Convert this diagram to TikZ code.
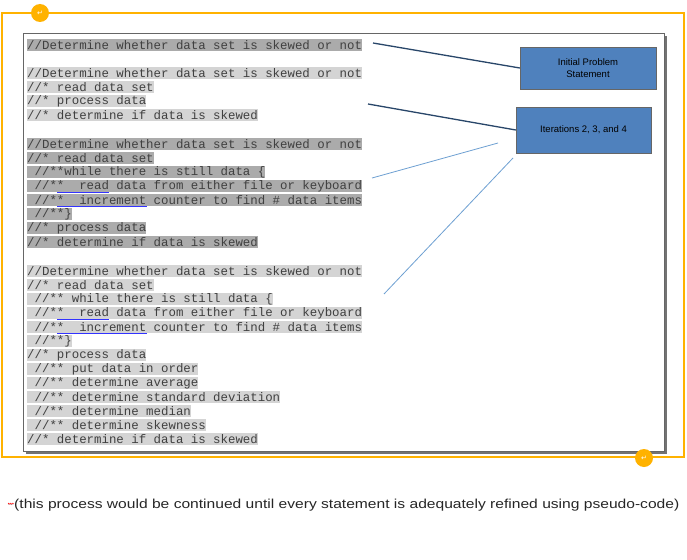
\documentclass[tikz,border=0pt]{standalone}
\usepackage{fontspec}
\usetikzlibrary{decorations.pathmorphing}
\setmainfont{Liberation Sans}
\setmonofont{Liberation Mono}
\newfontfamily\dvs{DejaVu Sans}
\begin{document}
\begin{tikzpicture}[x=1pt,y=-1pt,
  code/.style={anchor=west,inner sep=0pt,font=\ttfamily\fontsize{12.4}{13}\selectfont,text=black!75,minimum height=12pt},
  dk/.style={code,fill=black!33},
  lt/.style={code,fill=black!17},
  bluebox/.style={draw=black!60,fill={rgb,255:red,79;green,129;blue,189},font=\fontsize{9.5}{12}\selectfont,text=black,align=center,inner sep=2pt},
  dline/.style={draw={rgb,255:red,40;green,70;blue,105},line width=1.3pt},
  lline/.style={draw={rgb,255:red,110;green,160;blue,210},line width=0.8pt},
  uline/.style={draw=blue!80,line width=0.9pt},
  badge/.style={font=\dvs\scriptsize,text=white,inner sep=0}]
\useasboundingbox (0,0) rectangle (687,559);
\fill[white] (0,0) rectangle (687,559);
% yellow frame
\draw[draw=orange!60!yellow,line width=2.5pt] (2,13) rectangle (684,457);
\fill[orange!60!yellow] (40,13) circle (9);
\node[badge] (c1) at (40,13) {↵};
% inner box with shadow
\fill[black!55] (26,36) rectangle (667,454);
\draw[fill=white,draw=black!60,line width=0.8pt] (23,33) rectangle (664,451);
\fill[orange!60!yellow] (644,458) circle (9);
\node[badge] (c2) at (644,458) {↵};
% block 1
\node[dk] (a1) at (27,45) {//Determine whether data set is skewed or not};
% block 2
\node[lt] (b1) at (27,73) {//Determine whether data set is skewed or not};
\node[lt] (b2) at (27,87) {//* read data set};
\node[lt] (b3) at (27,101) {//* process data};
\node[lt] (b4) at (27,115) {//* determine if data is skewed};
% block 3
\node[dk] (d1) at (27,144) {//Determine whether data set is skewed or not};
\node[dk] (d2) at (27,158) {//* read data set};
\node[dk] (d3) at (27,172) {~//**while there is still data \{};
\node[dk] (d4) at (27,186) {~//**~~read data from either file or keyboard};
\node[dk] (d5) at (27,200) {~//**~~increment counter to find \# data items};
\node[dk] (d6) at (27,214) {~//**\}};
\node[dk] (d7) at (27,228) {//* process data};
\node[dk] (d8) at (27,242) {//* determine if data is skewed};
\draw[uline] ([xshift=30]d4.south west) -- ([xshift=82]d4.south west);
\draw[uline] ([xshift=30]d5.south west) -- ([xshift=120]d5.south west);
% block 4
\node[lt] (e1) at (27,271) {//Determine whether data set is skewed or not};
\node[lt] (e2) at (27,285) {//* read data set};
\node[lt] (e3) at (27,299) {~//** while there is still data \{};
\node[lt] (e4) at (27,313) {~//**~~read data from either file or keyboard};
\node[lt] (e5) at (27,327) {~//**~~increment counter to find \# data items};
\node[lt] (e6) at (27,341) {~//**\}};
\node[lt] (e7) at (27,355) {//* process data};
\node[lt] (e8) at (27,369) {~//** put data in order};
\node[lt] (e9) at (27,383) {~//** determine average};
\node[lt] (e10) at (27,397) {~//** determine standard deviation};
\node[lt] (e11) at (27,411) {~//** determine median};
\node[lt] (e12) at (27,425) {~//** determine skewness};
\node[lt] (e13) at (27,439) {//* determine if data is skewed};
\draw[uline] ([xshift=30]e4.south west) -- ([xshift=82]e4.south west);
\draw[uline] ([xshift=30]e5.south west) -- ([xshift=120]e5.south west);
% blue boxes
\node[bluebox,minimum width=136,minimum height=42] (ip) at (588,68) {Initial Problem\\Statement};
\node[bluebox,minimum width=135,minimum height=46] (it) at (583.5,130) {Iterations 2, 3, and 4};
% connectors
\coordinate (p1) at (373,43);
\coordinate (p2) at (368,104);
\coordinate (p3) at (372,178);
\coordinate (p4) at (384,294);
\coordinate (q3) at (498,143);
\coordinate (q4) at (513,158);
\draw[dline] (p1) -- (ip.west);
\draw[dline] (p2) -- (it.west);
\draw[lline] (p3) -- (q3);
\draw[lline] (p4) -- (q4);
% bottom text
\node[anchor=west,inner sep=0,font=\fontsize{13}{15}\selectfont,text=black!85,xscale=1.2] (bt) at (14,505) {(this process would be continued until every statement is adequately refined using pseudo-code)};
\node[anchor=east,inner sep=0,font=\tiny,text=black!85] (dots) at (bt.west) {....};
\draw[red,line width=0.4pt,decorate,decoration={snake,amplitude=0.6pt,segment length=2pt}] ([yshift=2]dots.south west) -- ([yshift=2]dots.south east);
\end{tikzpicture}
\end{document}
